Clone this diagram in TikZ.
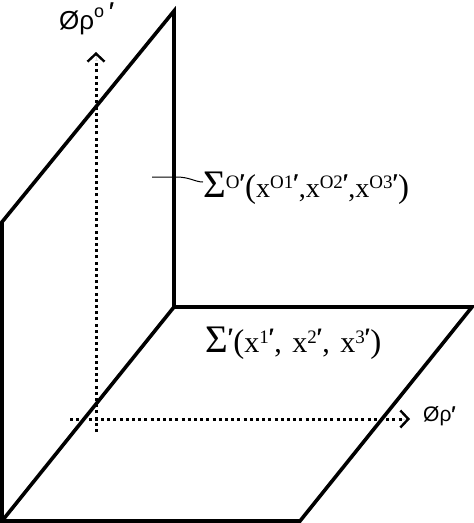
\documentclass[tikz,border=0pt]{standalone}
\usepackage{fontspec}
\setmainfont{Liberation Serif}
\newfontfamily\labfont{Liberation Sans}
\newfontfamily\boldserif[FakeBold=2]{Liberation Serif}
\newfontfamily\boldsans[FakeBold=2]{Liberation Sans}
\usetikzlibrary{arrows.meta}
\newcommand\pr{\raisebox{-0.12em}{\boldserif\fontsize{25}{25}\selectfont ′}}
\newcommand\mysup[1]{\raisebox{0.3em}{\fontsize{19}{20}\selectfont #1}}
\newcommand\bigsig{{\fontsize{39}{40}\selectfont Σ}}
\newcommand\bigpar[1]{{\fontsize{33}{34}\selectfont #1}}
\tikzset{
  edge/.style={line width=3.6pt, line join=miter, line cap=rect},
  axis/.style={line width=3pt, dash pattern=on 3pt off 3.2pt},
  tipline/.style={-{Straight Barb[length=8pt,width=17pt,line width=2.4pt]}, line width=0.01pt},
  lab/.style={font=\labfont\fontsize{21}{24}\selectfont, inner sep=0pt},
  labbig/.style={font=\labfont\fontsize{26}{28}\selectfont, inner sep=0pt},
  eq/.style={font=\fontsize{30}{32}\selectfont, inner sep=0pt},
  eqs/.style={font=\fontsize{28}{32}\selectfont, inner sep=0pt},
  leader/.style={line width=1pt}
}
\begin{document}
\begin{tikzpicture}[x=1pt,y=-1pt]
\useasboundingbox (0,0) rectangle (474,523);
% plane corners
\coordinate (A) at (2,521);
\coordinate (B) at (2,222);
\coordinate (C) at (174,11);
\coordinate (D) at (174,307);
\coordinate (E) at (472,307);
\coordinate (F) at (300,521);
% axes
\coordinate (vs) at (96,432);
\coordinate (vm) at (96,60);
\coordinate (vt) at (96,52);
\coordinate (hs) at (70,419);
\coordinate (hm) at (402,419);
\coordinate (ht) at (410,419);
\draw[axis] (vs) -- (vm);
\draw[tipline] (vm) -- (vt);
\draw[axis] (hs) -- (hm);
\draw[tipline] (hm) -- (ht);
% planes
\draw[edge] (A) -- (B) -- (C) -- (D);
\draw[edge] (A) -- (D) -- (E) -- (F) -- cycle;
% labels
\node[labbig, anchor=base west] (lv) at (59,29)
  {Øρ\raisebox{0.45em}{\fontsize{18}{20}\selectfont o}\hspace{5pt}\raisebox{0.38em}{\boldsans\fontsize{24}{24}\selectfont ′}};
\node[lab, anchor=base west] (lh) at (423,421) {Øρ{\boldsans ′}};
\node[eqs, anchor=base west] (sv) at (203,197)
  {\bigsig\mysup{O\pr}\bigpar{(}x\mysup{O1\pr},x\mysup{O2\pr},x\mysup{O3\pr}\bigpar{)}};
\node[eq, anchor=base west] (sh) at (205,352)
  {\bigsig\mysup{\pr}\bigpar{(}x\mysup{1\pr},\hspace{3pt} x\mysup{2\pr},\hspace{3pt} x\mysup{3\pr}\bigpar{)}};
\coordinate (ls) at (152,177);
\coordinate (lm) at (176,177);
\coordinate (le) at (203,182);
\draw[leader] (ls) -- (lm) .. controls (190,177) and (195,182) .. (le);
\end{tikzpicture}
\end{document}
